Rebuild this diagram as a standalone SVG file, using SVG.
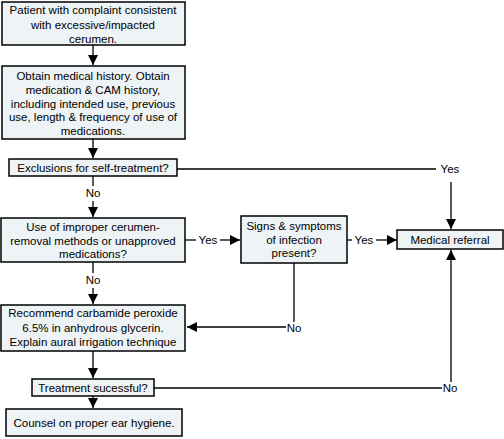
<svg xmlns="http://www.w3.org/2000/svg" width="504" height="439" viewBox="0 0 504 439">
<style>
.box{fill:#eef3f5;stroke:#000;stroke-width:1.5}
.t{font-family:"Liberation Sans",Arial,sans-serif;font-size:11.5px;fill:#000;text-anchor:middle}
.c{stroke:#000;stroke-width:1.3;fill:none}
</style>
<defs>
<marker id="ah" viewBox="0 0 10 10" refX="10" refY="5" markerWidth="10" markerHeight="10" markerUnits="userSpaceOnUse" orient="auto">
<path d="M0,0 L10,5 L0,10 Z" fill="#000"/>
</marker>
</defs>
<rect width="504" height="439" fill="#fff"/>
<g id="connectors">
<path class="c" d="M93,45 V65" marker-end="url(#ah)"/>
<path class="c" d="M93,139 V158" marker-end="url(#ah)"/>
<path class="c" d="M177,169 H436"/>
<path class="c" d="M451,182 V229" marker-end="url(#ah)"/>
<path class="c" d="M93,176 V186"/>
<path class="c" d="M93,201 V217" marker-end="url(#ah)"/>
<path class="c" d="M185,240 H196"/>
<path class="c" d="M220,240 H240" marker-end="url(#ah)"/>
<path class="c" d="M347,240 H352"/>
<path class="c" d="M376,240 H397" marker-end="url(#ah)"/>
<path class="c" d="M93,262 V273"/>
<path class="c" d="M93,288 V304" marker-end="url(#ah)"/>
<path class="c" d="M294,263 V322"/>
<path class="c" d="M286,327 H187" marker-end="url(#ah)"/>
<path class="c" d="M93,351 V378" marker-end="url(#ah)"/>
<path class="c" d="M154,388 H442"/>
<path class="c" d="M451,382 V250" marker-end="url(#ah)"/>
<path class="c" d="M93,396 V408" marker-end="url(#ah)"/>
<text class="t" x="450" y="173">Yes</text>
<text class="t" x="93" y="197">No</text>
<text class="t" x="208" y="244">Yes</text>
<text class="t" x="364" y="244">Yes</text>
<text class="t" x="93" y="284">No</text>
<text class="t" x="294" y="332">No</text>
<text class="t" x="450" y="392">No</text>
</g>
<g id="n1">
<rect class="box" x="2" y="2" width="183" height="43"/>
<text class="t" x="93" y="14">Patient with complaint consistent</text>
<text class="t" x="93" y="28.5">with excessive/impacted</text>
<text class="t" x="93" y="43">cerumen.</text>
</g>
<g id="n2">
<rect class="box" x="2" y="66" width="183" height="73"/>
<text class="t" x="93" y="80">Obtain medical history. Obtain</text>
<text class="t" x="93" y="94">medication &amp; CAM history,</text>
<text class="t" x="93" y="107.5">including intended use, previous</text>
<text class="t" x="93" y="121">use, length &amp; frequency of use of</text>
<text class="t" x="93" y="135">medications.</text>
</g>
<g id="n3">
<rect class="box" x="9" y="159" width="168" height="17"/>
<text class="t" x="93" y="172">Exclusions for self-treatment?</text>
</g>
<g id="n4">
<rect class="box" x="1" y="218" width="184" height="44"/>
<text class="t" x="93" y="231">Use of improper cerumen-</text>
<text class="t" x="93" y="245">removal methods or unapproved</text>
<text class="t" x="93" y="258">medications?</text>
</g>
<g id="n5">
<rect class="box" x="241" y="216" width="106" height="47"/>
<text class="t" x="294" y="230">Signs &amp; symptoms</text>
<text class="t" x="294" y="244">of infection</text>
<text class="t" x="294" y="257">present?</text>
</g>
<g id="n6">
<rect class="box" x="397" y="230" width="106" height="19"/>
<text class="t" x="450" y="244">Medical referral</text>
</g>
<g id="n7">
<rect class="box" x="1" y="305" width="184" height="46"/>
<text class="t" x="93" y="317">Recommend carbamide peroxide</text>
<text class="t" x="93" y="331.5">6.5% in anhydrous glycerin.</text>
<text class="t" x="93" y="346">Explain aural irrigation technique</text>
</g>
<g id="n8">
<rect class="box" x="32" y="379" width="122" height="17"/>
<text class="t" x="93" y="392">Treatment sucessful?</text>
</g>
<g id="n9">
<rect class="box" x="6" y="409" width="176" height="27"/>
<text class="t" x="94" y="427">Counsel on proper ear hygiene.</text>
</g>
</svg>
